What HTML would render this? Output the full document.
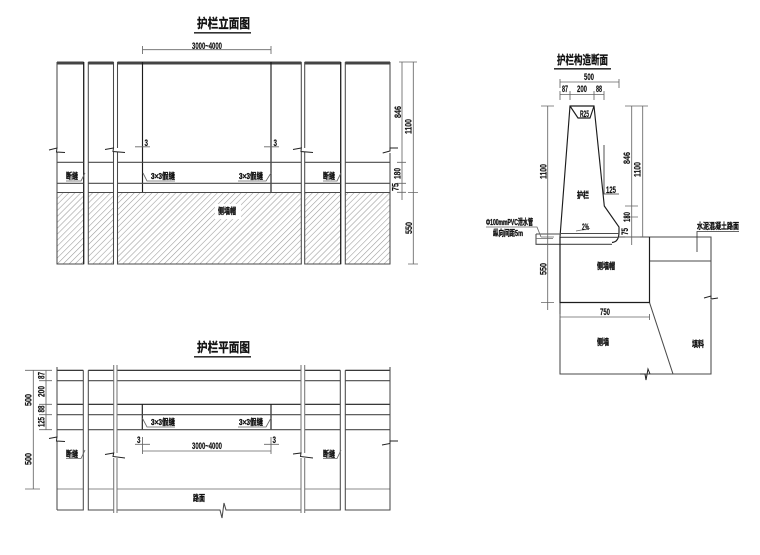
<!DOCTYPE html>
<html><head><meta charset="utf-8"><style>
html,body{margin:0;padding:0;background:#fff;width:760px;height:555px;overflow:hidden}
svg{display:block}
text{font-family:"Liberation Sans","Noto Sans CJK SC",sans-serif;fill:#111;font-size:9px;font-weight:bold;stroke:#111;stroke-width:.15}
.c{font-size:8.5px;stroke-width:.35}
.t{font-family:"Noto Sans CJK SC",sans-serif;font-size:13px;stroke-width:.3}
path,line,polyline,rect.l{fill:none;stroke:#4a4a4a;stroke-width:1.05}
.d{stroke:#666;stroke-width:.85}
.k{stroke:#1c1c1c;stroke-width:1.15}
.z{stroke:#222;stroke-width:1}
</style></head><body>
<svg width="760" height="555" viewBox="0 0 760 555" xmlns="http://www.w3.org/2000/svg">
<defs><pattern id="h" width="4.2" height="4.2" patternUnits="userSpaceOnUse" patternTransform="rotate(45)"><rect width="4.2" height="4.2" fill="#fff"/><line x1="0" y1="0" x2="0" y2="4.2" style="stroke:#999;stroke-width:1.1"/></pattern></defs>

<!-- ELEVATION -->
<text class="t" x="197" y="28" textLength="53" lengthAdjust="spacingAndGlyphs">护栏立面图</text>
<rect x="194" y="32" width="57" height="1.6" fill="#333"/>
<path class="d" d="M142.5 46V54M271 46V54M142.5 49.7H271"/>
<text x="192" y="49" textLength="30" lengthAdjust="spacingAndGlyphs">3000~4000</text>

<rect x="57" y="192.5" width="26.7" height="71.5" fill="url(#h)"/>
<rect x="88.3" y="192.5" width="25.2" height="71.5" fill="url(#h)"/>
<rect x="117.5" y="192.5" width="183.8" height="71.5" fill="url(#h)"/>
<rect x="304.7" y="192.5" width="36" height="71.5" fill="url(#h)"/>
<rect x="345.3" y="192.5" width="44.7" height="71.5" fill="url(#h)"/>
<rect x="215" y="204" width="26" height="15" fill="#fff"/>

<g fill="#444">
<rect x="57" y="61.5" width="26.7" height="3"/><rect x="88.3" y="61.5" width="25.2" height="3"/><rect x="117.5" y="61.5" width="183.8" height="3"/><rect x="304.7" y="61.5" width="36" height="3"/><rect x="345.3" y="61.5" width="44.7" height="3"/>
</g>
<path d="M57 62V148M57 152V264H83.7V62M88.3 62V264H113.5V152M113.5 148V62M117.5 62V148M117.5 152V264H301.3V152M301.3 148V62M304.7 62V148M304.7 152V264H340.7V62M345.3 62V264H390V153M390 148V62"/>
<path class="k" d="M142.5 62V192.5M271 62V192.5M83.7 62V264M340.7 62V264"/>
<path d="M57 162.3H83.7M88.3 162.3H113.5M117.5 162.3H301.3M304.7 162.3H340.7M345.3 162.3H390M57 183.3H83.7M88.3 183.3H113.5M117.5 183.3H301.3M304.7 183.3H340.7M345.3 183.3H390M57 192.5H83.7M88.3 192.5H113.5M117.5 192.5H301.3M304.7 192.5H340.7M345.3 192.5H390"/>
<path class="z" d="M49 150L57 148L56.5 152L65 152.5M105 149.5L113.5 148L113 151.5L125 152.5M293 149.5L301.3 148L301 151.5L313 152.5M382.7 153L390 151L390 148L398 148"/>

<path class="d" d="M135 146.8H150M264 146.8H279M399 62H408M397 162.3H406M397 183.3H406M397 192.3H406M408 62H417M402 62V200M413.3 62V264M408 192.5H418M408 264H418"/>
<text x="144.5" y="146" textLength="3.5" lengthAdjust="spacingAndGlyphs">3</text><text x="273.5" y="146" textLength="3.5" lengthAdjust="spacingAndGlyphs">3</text>
<text x="0" y="0" transform="translate(401 118) rotate(-90)" textLength="12" lengthAdjust="spacingAndGlyphs">846</text>
<text x="0" y="0" transform="translate(411.5 134) rotate(-90)" textLength="15" lengthAdjust="spacingAndGlyphs">1100</text>
<text x="0" y="0" transform="translate(400.5 179) rotate(-90)" textLength="11" lengthAdjust="spacingAndGlyphs">180</text>
<text x="0" y="0" transform="translate(398.5 191) rotate(-90)" textLength="8" lengthAdjust="spacingAndGlyphs">75</text>
<text x="0" y="0" transform="translate(412 234) rotate(-90)" textLength="12" lengthAdjust="spacingAndGlyphs">550</text>

<text class="c" x="66" y="179" textLength="12" lengthAdjust="spacingAndGlyphs">断缝</text>
<path class="d" d="M66 181H81L85 173"/>
<text class="c" x="151" y="179" textLength="24" lengthAdjust="spacingAndGlyphs">3×3假缝</text>
<path class="d" d="M143 173L147 181H175"/>
<text class="c" x="239" y="179" textLength="24" lengthAdjust="spacingAndGlyphs">3×3假缝</text>
<path class="d" d="M238 181H266L271 173"/>
<text class="c" x="323" y="179" textLength="12" lengthAdjust="spacingAndGlyphs">断缝</text>
<path class="d" d="M323 181H337L341 173"/>
<text class="c" x="218" y="214" textLength="18" lengthAdjust="spacingAndGlyphs">侧墙帽</text>

<!-- PLAN -->
<text class="t" x="197" y="352" textLength="53" lengthAdjust="spacingAndGlyphs">护栏平面图</text>
<rect x="194" y="356" width="57" height="1.6" fill="#333"/>

<path class="k" d="M57 370.3H83.3M88.3 370.3H113.7M117 370.3H301M304.7 370.3H340.3M345.3 370.3H390M57 404.3H83.3M88.3 404.3H113.7M117 404.3H301M304.7 404.3H340.3M345.3 404.3H390M142.3 404.3V430M271 404.3V430"/>
<path d="M57 380.7H83.3M88.3 380.7H113.7M117 380.7H301M304.7 380.7H340.3M345.3 380.7H390M57 414.7H83.3M88.3 414.7H113.7M117 414.7H301M304.7 414.7H340.3M345.3 414.7H390M57 429.7H83.3M88.3 429.7H113.7M117 429.7H301M304.7 429.7H340.3M345.3 429.7H390"/>
<path class="d" d="M57 489H83.3M88.3 489H113.7M117 489H301M304.7 489H340.3M345.3 489H390"/>
<path d="M57 510H83.3V370.3M88.3 370.3V510H113.7M117 510H220L222 518L224 503L226 510H301M304.7 510H340.3V370.3M345.3 370.3V510H390V444M390 441V367M57 367V437M57 441V510"/>
<path style="stroke:#777" d="M113.7 365V453M113.7 458V513M117 365V453M117 458V513M301 365V453M301 458V513M304.7 365V453M304.7 458V513"/>
<path class="z" d="M49 438.5L57 437L56.5 441L65 441.5M105 454.5L113.7 453L113 456.5L125 458M293 454L301 453L300.5 456.5L313 458M382 445L390 443.5L390 441L398 441"/>

<path class="d" d="M25 370.3H40M25 489H40M33.3 370.3V489M39 370.3H52M39 380.7H52M39 404.3H52M39 414.7H52M39 429.7H52M46 370.3V430"/>
<text x="0" y="0" transform="translate(31.5 406) rotate(-90)" textLength="12" lengthAdjust="spacingAndGlyphs">500</text>
<text x="0" y="0" transform="translate(31.5 465) rotate(-90)" textLength="12" lengthAdjust="spacingAndGlyphs">500</text>
<text x="0" y="0" transform="translate(44.5 379) rotate(-90)" textLength="7" lengthAdjust="spacingAndGlyphs">87</text>
<text x="0" y="0" transform="translate(44.5 397) rotate(-90)" textLength="11" lengthAdjust="spacingAndGlyphs">200</text>
<text x="0" y="0" transform="translate(44.5 412.5) rotate(-90)" textLength="7" lengthAdjust="spacingAndGlyphs">88</text>
<text x="0" y="0" transform="translate(44.5 427) rotate(-90)" textLength="10" lengthAdjust="spacingAndGlyphs">125</text>

<text class="c" x="66" y="457" textLength="12" lengthAdjust="spacingAndGlyphs">断缝</text>
<path class="d" d="M66 458.5H81L85 450"/>
<text class="c" x="323" y="457" textLength="12" lengthAdjust="spacingAndGlyphs">断缝</text>
<path class="d" d="M323 458.5H337L341 450"/>
<text class="c" x="151" y="425" textLength="24" lengthAdjust="spacingAndGlyphs">3×3假缝</text>
<path class="d" d="M142.3 418L147 427H175"/>
<text class="c" x="239" y="425" textLength="24" lengthAdjust="spacingAndGlyphs">3×3假缝</text>
<path class="d" d="M238 427H266L271 418"/>
<path class="d" d="M142.5 437V454M271 437V454M142.5 451H271M135 444.3H150M264 444.3H279"/>
<text x="137" y="443" textLength="3.5" lengthAdjust="spacingAndGlyphs">3</text><text x="272.5" y="443" textLength="3.5" lengthAdjust="spacingAndGlyphs">3</text>
<text x="192" y="449" textLength="30" lengthAdjust="spacingAndGlyphs">3000~4000</text>
<text class="c" x="193" y="501" textLength="12" lengthAdjust="spacingAndGlyphs">路面</text>

<!-- SECTION -->
<text class="t" x="557" y="64" style="font-size:12px" textLength="51" lengthAdjust="spacingAndGlyphs">护栏构造断面</text>
<rect x="554" y="68" width="57" height="1.6" fill="#333"/>
<path class="d" d="M560 79V88M619 79V88M560 82H619M560 91V100M570 91V100M594 91V100M604 91V100M560 94.5H604"/>
<text x="584" y="80" textLength="10" lengthAdjust="spacingAndGlyphs">500</text>
<text x="562" y="92" textLength="6" lengthAdjust="spacingAndGlyphs">87</text>
<text x="577" y="92" textLength="10" lengthAdjust="spacingAndGlyphs">200</text>
<text x="596" y="92" textLength="6" lengthAdjust="spacingAndGlyphs">88</text>

<path class="k" d="M560 237L570 106H594L604.3 206L619 227V232Q619 242 612 242.5M570 106L578 118H590L594 106"/>
<text x="580" y="117" textLength="9" lengthAdjust="spacingAndGlyphs">R25</text>
<path d="M560 233.5H619M560 237.3H619M536 234H560M536 234V244.3H612"/>
<path d="M619 237H711V296M711 300V374H560V237M649.5 237V302.5M560 302.5H649.5L673 374M649.5 261H711"/>
<path class="k" d="M560 237V302.5H649.5V237"/>
<path class="z" d="M704 298L711 296L711 299L718 298M640 374L645 374L646 380L648 369L650 374"/>
<path class="d" d="M541 106H554M547.7 106V310M541 237H554M541 302.5H554M625 106H638M636 106H648M631.7 106V245M642.7 106V237M625 206H638M625 217H638M625 237H640"/>
<path class="d" style="stroke:#333" d="M697 252V231.5H739M604 145V194H619"/>
<path class="d" d="M560 317H649.5M560 314V320M649.5 314V320M576 231L590 228.5M486 227H537L541 237M536 238.5H553"/>
<text x="0" y="0" transform="translate(546.5 179) rotate(-90)" textLength="15" lengthAdjust="spacingAndGlyphs">1100</text>
<text x="0" y="0" transform="translate(630 164) rotate(-90)" textLength="12" lengthAdjust="spacingAndGlyphs">846</text>
<text x="0" y="0" transform="translate(640.5 177) rotate(-90)" textLength="15" lengthAdjust="spacingAndGlyphs">1100</text>
<text x="0" y="0" transform="translate(630 222) rotate(-90)" textLength="10" lengthAdjust="spacingAndGlyphs">180</text>
<text x="0" y="0" transform="translate(628 235) rotate(-90)" textLength="7" lengthAdjust="spacingAndGlyphs">75</text>
<text x="0" y="0" transform="translate(546.5 275) rotate(-90)" textLength="12" lengthAdjust="spacingAndGlyphs">550</text>
<text x="606" y="193" textLength="10" lengthAdjust="spacingAndGlyphs">125</text>
<text x="582" y="230" textLength="7" lengthAdjust="spacingAndGlyphs">2%</text>
<text x="600" y="315" textLength="10" lengthAdjust="spacingAndGlyphs">750</text>
<text class="c" x="577" y="198" textLength="12" lengthAdjust="spacingAndGlyphs">护栏</text>
<text class="c" x="486" y="225" textLength="47" lengthAdjust="spacingAndGlyphs">Φ100mmPVC泄水管</text>
<text class="c" x="493" y="236" textLength="30" lengthAdjust="spacingAndGlyphs">纵向间距5m</text>
<text class="c" x="697" y="229" textLength="42" lengthAdjust="spacingAndGlyphs">水泥混凝土路面</text>
<text class="c" x="597" y="269" textLength="18" lengthAdjust="spacingAndGlyphs">侧墙帽</text>
<text class="c" x="597" y="345" textLength="12" lengthAdjust="spacingAndGlyphs">侧墙</text>
<text class="c" x="692" y="347" textLength="12" lengthAdjust="spacingAndGlyphs">填料</text>
</svg>
</body></html>
